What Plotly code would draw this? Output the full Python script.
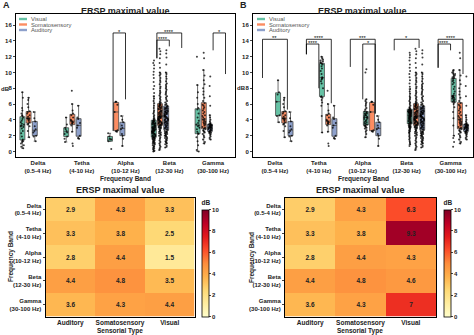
import plotly.graph_objects as go
from plotly.colors import sequential

# ---------------------------------------------------------------- data
bands = ["Delta", "Tetha", "Alpha", "Beta", "Gamma"]
band_ranges = ["(0.5-4 Hz)", "(4-10 Hz)", "(10-12 Hz)", "(12-30 Hz)", "(30-100 Hz)"]
modalities = ["Visual", "Somatosensory", "Auditory"]
heat_columns = ["Auditory", "Somatosensory", "Visual"]

# ERSP maximal values (dB) per electrode / subject sample
visual_a_delta = [0.4, 0.6, 0.8, 1.0, 1.2, 1.3, 1.4, 1.5, 1.9, 2.3, 2.6, 2.9, 3.1, 3.2,
                  3.3, 3.4, 3.5, 3.7, 3.9, 4.1, 4.3, 4.5, 4.6, 4.8, 5.2, 5.5, 6.8, 7.5]
visual_a_tetha = [1.2, 1.6, 1.9, 2.2, 2.4, 2.6, 2.8, 3.0, 3.4, 4.3]
visual_a_alpha = [0.3, 1.3, 1.5, 1.6, 1.9, 2.3]
visual_a_beta = [0.0, 0.1, 0.2, 0.3, 0.4, 0.5, 0.6, 0.7, 0.8, 0.9, 1.0, 1.0, 1.1, 1.2, 1.2,
                 1.3, 1.4, 1.4, 1.5, 1.5, 1.6, 1.6, 1.7, 1.7, 1.8,
                 1.8, 1.9, 1.9, 2.0, 2.0, 2.1, 2.1, 2.2, 2.2, 2.3, 2.3, 2.4, 2.4, 2.5, 2.5,
                 2.5, 2.6, 2.6, 2.6, 2.7, 2.7, 2.7, 2.8, 2.8, 2.8,
                 2.9, 2.9, 3.0, 3.0, 3.0, 3.1, 3.1, 3.2, 3.2, 3.3, 3.3, 3.4, 3.4, 3.5, 3.5,
                 3.5, 3.6, 3.6, 3.7, 3.7, 3.8, 3.8, 3.9, 3.9, 3.9,
                 4.0, 4.1, 4.2, 4.4, 4.6, 4.8, 5.0, 5.2, 5.5, 5.8, 6.1, 6.4, 6.7, 7.0,
                 7.4, 7.9, 8.3, 8.8, 9.3, 9.7, 10.1, 10.5, 10.9, 11.2, 11.5]
visual_a_gamma = [0.0, 0.2, 0.8, 1.3, 1.8, 2.2, 2.3, 2.5, 2.8, 3.0, 3.2, 3.3,
                  3.4, 3.6, 3.9, 4.3, 4.8, 5.3, 5.5, 6.0, 6.8, 7.5, 8.4, 12.0]

visual_b_delta = [3.7, 4.5, 4.6, 6.3, 7.2, 7.5, 9.0]
visual_b_tetha = [2.4, 4.5, 5.8, 6.2, 6.5, 6.8, 6.9, 7.0, 8.0, 8.6, 8.9, 9.1, 9.2, 9.3,
                  9.4, 9.8, 10.2, 10.5, 10.8, 11.0, 11.1, 11.2, 11.3, 11.4, 11.5, 11.6, 11.8, 12.0]
visual_b_alpha = [1.8, 2.2, 2.5, 2.7, 2.9, 3.0, 3.1, 3.2, 3.3, 3.3, 3.4, 3.5, 3.6, 3.7,
                  3.8, 3.9, 4.0, 4.1, 4.2, 4.3, 4.3, 4.4, 4.5, 4.6, 4.6, 4.7, 4.8, 4.8,
                  4.9, 5.0, 5.1, 5.3, 5.5, 5.8, 6.0, 6.2, 6.4, 6.6, 10.0, 10.4]
visual_b_beta = [0.7, 0.9, 1.1, 1.3, 1.5, 1.7, 1.9, 2.1, 2.3, 2.4, 2.5, 2.6, 2.7, 2.8, 2.9,
                 3.0, 3.0, 3.1, 3.1, 3.2, 3.2, 3.3, 3.3, 3.4, 3.5,
                 3.5, 3.6, 3.6, 3.7, 3.7, 3.8, 3.8, 3.9, 3.9, 4.0, 4.0, 4.1, 4.1, 4.2, 4.2,
                 4.3, 4.3, 4.3, 4.4, 4.4, 4.4, 4.5, 4.5, 4.5, 4.6,
                 4.6, 4.6, 4.7, 4.7, 4.7, 4.8, 4.8, 4.8, 4.9, 4.9, 4.9, 5.0, 5.0, 5.0, 5.0,
                 5.1, 5.1, 5.1, 5.1, 5.2, 5.2, 5.2, 5.2, 5.3, 5.3,
                 5.4, 5.5, 5.6, 5.8, 6.0, 6.2, 6.4, 6.6, 6.8, 7.0, 7.3, 7.6, 7.9, 8.2,
                 8.6, 9.0, 9.4, 9.8, 10.2, 10.6, 11.0, 11.5, 11.9, 12.2, 12.5]
visual_b_gamma = [0.6, 1.2, 1.7, 2.0, 3.3, 4.2, 5.0, 5.6, 6.0, 6.2, 6.3, 6.4, 6.5, 6.6,
                  6.7, 6.8, 6.8, 6.9, 7.0, 7.0, 7.1, 7.3, 7.6, 7.9, 8.2, 8.5, 8.7, 8.9,
                  9.0, 9.2, 9.3, 9.4, 9.5, 9.6, 9.7, 9.8, 9.9, 10.0, 10.2, 10.3]

somato_delta = [1.8, 2.6, 3.2, 3.4, 3.5, 3.7, 3.9, 4.0, 4.1, 4.2, 4.2, 4.4, 4.6, 4.8,
                5.0, 5.1, 5.6, 6.0, 6.5, 6.8]
somato_tetha = [0.7, 1.0, 2.5, 3.3, 3.5, 3.6, 3.7, 3.8, 3.9, 4.0, 4.3, 4.6, 4.8, 5.2, 6.0, 7.7]
somato_alpha = [2.5, 2.6, 2.7, 5.0, 5.9, 6.3, 6.3]
somato_beta = [0.2, 0.4, 0.6, 0.8, 1.0, 1.2, 1.4, 1.6, 1.8, 2.0, 2.1, 2.2, 2.3, 2.4, 2.5,
               2.6, 2.7, 2.8, 2.9, 3.0, 3.0, 3.1, 3.1, 3.2, 3.3,
               3.3, 3.4, 3.4, 3.5, 3.5, 3.6, 3.6, 3.7, 3.7, 3.8, 3.8, 3.9, 3.9, 4.0, 4.0,
               4.1, 4.1, 4.2, 4.2, 4.3, 4.3, 4.3, 4.4, 4.4, 4.4,
               4.5, 4.5, 4.6, 4.7, 4.7, 4.8, 4.9, 4.9, 5.0, 5.1, 5.1, 5.2, 5.3, 5.3, 5.4,
               5.5, 5.5, 5.6, 5.7, 5.7, 5.8, 5.8, 5.9, 5.9, 6.0,
               6.1, 6.2, 6.3, 6.5, 6.7, 6.9, 7.1, 7.3, 7.5, 7.7, 8.0, 8.2, 8.5, 8.8, 9.0,
               9.3, 9.6, 9.8, 10.0, 10.6, 11.2, 11.8, 12.3, 12.7, 13.0]
somato_gamma = [1.0, 1.2, 1.5, 1.8, 2.0, 2.2, 2.4, 2.5, 2.6, 2.7, 2.8, 2.9,
                3.0, 3.1, 3.3, 3.4, 3.5, 3.6, 3.7, 3.8, 3.9, 4.0,
                4.1, 4.3, 4.5, 4.6, 4.8, 5.0, 5.2, 5.4, 5.6, 5.8,
                5.9, 6.1, 6.4, 6.8, 7.2, 7.6, 8.0, 8.5, 9.0, 9.6, 10.3, 11.8, 12.5]

auditory_delta = [1.3, 1.9, 2.0, 2.4, 2.6, 2.8, 3.2, 3.8, 4.2, 5.0]
auditory_tetha = [1.6, 1.7, 2.0, 3.0, 3.3, 3.6, 4.1, 4.3, 5.8]
auditory_alpha = [0.7, 1.6, 2.0, 2.2, 2.8, 3.0, 3.3, 3.7, 4.0, 4.5]
auditory_beta = [0.5, 0.7, 0.9, 1.0, 1.1, 1.2, 1.3, 1.4, 1.5, 1.6, 1.7, 1.8, 1.9, 2.0, 2.0,
                 2.1, 2.2, 2.2, 2.3, 2.4, 2.4, 2.5, 2.5, 2.6, 2.7,
                 2.8, 2.9, 3.0, 3.0, 3.1, 3.2, 3.3, 3.3, 3.4, 3.5, 3.5, 3.6, 3.7, 3.7, 3.8,
                 3.8, 3.9, 3.9, 4.0, 4.0, 4.1, 4.1, 4.2, 4.2, 4.3,
                 4.4, 4.4, 4.5, 4.5, 4.6, 4.6, 4.7, 4.7, 4.8, 4.8, 4.9, 4.9, 5.0, 5.0, 5.1,
                 5.1, 5.2, 5.2, 5.3, 5.4, 5.4, 5.5, 5.5, 5.6, 5.7,
                 5.8, 5.9, 6.0, 6.2, 6.4, 6.6, 6.8, 7.0, 7.2, 7.4, 7.6, 7.8, 8.0, 8.2, 8.4,
                 8.6, 8.9, 9.2, 9.5, 9.8, 10.0, 11.0, 11.9, 12.4, 12.8]
auditory_gamma = [1.5, 1.7, 1.9, 2.1, 2.2, 2.3, 2.4, 2.4, 2.5, 2.5, 2.6, 2.7, 2.7, 2.8,
                  2.8, 2.9, 2.9, 3.0, 3.0, 3.0, 3.1, 3.1, 3.2, 3.2, 3.3, 3.3, 3.3, 3.4,
                  3.4, 3.4, 3.5, 3.6, 3.8, 4.0, 4.3, 4.6, 5.8, 7.0, 8.3, 9.5]

# heatmap cell values (rows follow `bands`)
heat_a_auditory = [2.9, 3.3, 2.8, 4.4, 3.6]
heat_a_somatosensory = [4.3, 3.8, 4.4, 4.8, 4.3]
heat_a_visual = [3.3, 2.5, 1.5, 3.5, 4.4]
heat_b_auditory = [2.9, 3.3, 2.8, 4.4, 3.6]
heat_b_somatosensory = [4.3, 3.8, 4.4, 4.8, 4.3]
heat_b_visual = [6.3, 9.3, 4.3, 4.6, 7]

# significance comparisons: (band, group 1, group 2, label)
comparisons_a = [("Alpha", "Visual", "Somatosensory", "*"),
                 ("Beta", "Visual", "Auditory", "****"),
                 ("Beta", "Visual", "Somatosensory", "****"),
                 ("Gamma", "Somatosensory", "Auditory", "*")]
comparisons_b = [("Delta", "Visual", "Auditory", "**"),
                 ("Tetha", "Visual", "Auditory", "****"),
                 ("Tetha", "Visual", "Somatosensory", "****"),
                 ("Alpha", "Visual", "Auditory", "***"),
                 ("Alpha", "Somatosensory", "Auditory", "*"),
                 ("Beta", "Visual", "Auditory", "*"),
                 ("Gamma", "Visual", "Auditory", "****"),
                 ("Gamma", "Visual", "Somatosensory", "****")]

# ---------------------------------------------------------------- style
W, H = 474, 335
FONT = "Liberation Sans, Arial, sans-serif"
COLORS = {"Visual": "#66c2a5", "Somatosensory": "#fc8d62", "Auditory": "#8da0cb"}
BOXGAP = 0.15
SLOT = (1 - BOXGAP) / 3
OFFSETS = {"Visual": -SLOT, "Somatosensory": 0.0, "Auditory": SLOT}


def px_x(p):
    return p / W


def px_y(p):
    return 1 - p / H


samples_a = {
    "Visual": [visual_a_delta, visual_a_tetha, visual_a_alpha, visual_a_beta, visual_a_gamma],
    "Somatosensory": [somato_delta, somato_tetha, somato_alpha, somato_beta, somato_gamma],
    "Auditory": [auditory_delta, auditory_tetha, auditory_alpha, auditory_beta, auditory_gamma],
}
samples_b = {
    "Visual": [visual_b_delta, visual_b_tetha, visual_b_alpha, visual_b_beta, visual_b_gamma],
    "Somatosensory": samples_a["Somatosensory"],
    "Auditory": samples_a["Auditory"],
}

fig = go.Figure()
shapes = []
annotations = []

panels = [
    ("x", "y", samples_a, comparisons_a, (15.0, 14.1), 19),
    ("x2", "y2", samples_b, comparisons_b, (14.2, 13.6), 257),
]
for xa, ya, samples, comps, levels, leg_x in panels:
    for k, mod in enumerate(modalities):
        xs, ys = [], []
        for i, vals in enumerate(samples[mod]):
            xs += [i] * len(vals)
            ys += vals
        fig.add_trace(go.Box(
            x=xs, y=ys, name=mod, xaxis=xa, yaxis=ya, showlegend=False,
            fillcolor=COLORS[mod], line=dict(color="#4a4a4a", width=0.8),
            boxpoints="all", jitter=0.75, pointpos=0, whiskerwidth=0.45,
            marker=dict(color="black", size=2, opacity=0.75),
            hoveron="boxes",
        ))
        # compact legend entry: colour patch + label
        row_y = 19 + 5.5 * k
        shapes.append(dict(type="rect", xref="paper", yref="paper",
                           x0=px_x(leg_x), x1=px_x(leg_x + 8),
                           y0=px_y(row_y + 1.2), y1=px_y(row_y - 1.2),
                           fillcolor=COLORS[mod], line=dict(width=0)))
        annotations.append(dict(x=px_x(leg_x + 10.5), y=px_y(row_y), xref="paper",
                                yref="paper", text=mod, showarrow=False,
                                xanchor="left", yanchor="middle", borderpad=0,
                                font=dict(size=5.8, color="#555")))
    # significance brackets
    seen = {}
    for band, g1, g2, label in comps:
        bi = bands.index(band)
        tier = seen.get(band, 0)
        seen[band] = tier + 1
        top = levels[tier]
        x1, x2 = bi + OFFSETS[g1], bi + OFFSETS[g2]
        y1 = max(samples[g1][bi]) + 0.3
        y2 = max(samples[g2][bi]) + 0.3
        shapes.append(dict(type="path", xref=xa, yref=ya,
                           path=f"M {x1},{y1} L {x1},{top} L {x2},{top} L {x2},{y2}",
                           line=dict(color="black", width=0.8)))
        annotations.append(dict(x=(x1 + x2) / 2, y=top, xref=xa, yref=ya, text=label,
                                showarrow=False, yanchor="bottom", yshift=-3,
                                borderpad=0, font=dict(size=5.8, color="black")))

# heatmaps
heat_panels = [
    ("x3", "y3", [heat_a_auditory, heat_a_somatosensory, heat_a_visual], 202),
    ("x4", "y4", [heat_b_auditory, heat_b_somatosensory, heat_b_visual], 444),
]
row_labels = [f"{b}<br>{r}" for b, r in zip(bands, band_ranges)]
heat_top, heat_bot = 197.5, 316.5
for xa, ya, cols, cb_x in heat_panels:
    z = [[col[r] for col in cols] for r in range(len(bands))]
    fig.add_trace(go.Heatmap(
        z=z, x=heat_columns, y=row_labels, xaxis=xa, yaxis=ya,
        colorscale=sequential.YlOrRd, zmin=0, zmax=10,
        texttemplate="%{z}", textfont=dict(size=6.5, color="#222", weight="bold"),
        colorbar=dict(x=px_x(cb_x), xanchor="left", thickness=7, xpad=0, ypad=0,
                      len=(heat_bot - heat_top) / H, lenmode="fraction",
                      y=px_y((heat_top + heat_bot) / 2), yanchor="middle",
                      outlinewidth=0.8, outlinecolor="black",
                      tickvals=[0, 2, 4, 6, 8, 10], ticks="outside", ticklen=2,
                      tickfont=dict(size=6, weight="bold", color="#222"),
                      title=dict(text="dB", side="top",
                                 font=dict(size=6.5, weight="bold", color="#222"))),
    ))

frame = dict(showline=True, mirror=True, linecolor="black", linewidth=1,
             showgrid=False, zeroline=False)
tick_text = [f"<b>{b}</b><br><b>{r}</b>" for b, r in zip(bands, band_ranges)]
box_x = dict(frame, range=[-0.5, 4.5], tickvals=list(range(5)), ticktext=tick_text,
             ticks="", tickfont=dict(size=6, color="#222"))
box_y = dict(frame, range=[-0.7, 17.4], dtick=2, ticks="outside", ticklen=2,
             tickfont=dict(size=6, weight="bold", color="#222"))
heat_x = dict(frame, ticks="", ticklabelstandoff=0,
              tickfont=dict(size=6.5, weight="bold", color="#222"))
heat_y = dict(frame, ticks="outside", ticklen=2, autorange="reversed",
              tickfont=dict(size=6, weight="bold", color="#222"))

top_y0, top_y1 = px_y(157), px_y(14)
hm_y0, hm_y1 = px_y(heat_bot), px_y(heat_top)

fig.update_layout(
    width=W, height=H, margin=dict(l=0, r=0, t=0, b=0),
    paper_bgcolor="white", plot_bgcolor="white",
    font=dict(family=FONT, color="#222"),
    showlegend=False,
    boxmode="group", boxgap=BOXGAP, boxgroupgap=0.2,
    xaxis=dict(box_x, domain=[px_x(16), px_x(235)], anchor="y"),
    yaxis=dict(box_y, domain=[top_y0, top_y1], anchor="x"),
    xaxis2=dict(box_x, domain=[px_x(253), px_x(472.5)], anchor="y2"),
    yaxis2=dict(box_y, domain=[top_y0, top_y1], anchor="x2"),
    xaxis3=dict(heat_x, domain=[px_x(45.5), px_x(194.5)], anchor="y3"),
    yaxis3=dict(heat_y, domain=[hm_y0, hm_y1], anchor="x3"),
    xaxis4=dict(heat_x, domain=[px_x(285), px_x(436)], anchor="y4"),
    yaxis4=dict(heat_y, domain=[hm_y0, hm_y1], anchor="x4"),
    shapes=shapes,
)


# panel titles, letters and axis titles
def text(x, y, s, size=7, bold=True, angle=0, xanchor="center", yanchor="middle"):
    annotations.append(dict(x=px_x(x), y=px_y(y), xref="paper", yref="paper",
                            text=f"<b>{s}</b>" if bold else s, showarrow=False,
                            textangle=angle, xanchor=xanchor, yanchor=yanchor,
                            borderpad=0, font=dict(size=size, color="#222")))


text(2, 5, "A", size=9, xanchor="left")
text(239, 5, "B", size=9, xanchor="left")
text(125, 11, "ERSP maximal value", size=9)
text(362, 11, "ERSP maximal value", size=9)
text(0, 89, "dB", size=6, xanchor="left")
text(236, 88, "dB", size=6, xanchor="left")
text(125, 179, "Frequency Band", size=6.5)
text(363, 179, "Frequency Band", size=6.5)
text(120, 190, "ERSP maximal value", size=9)
text(360, 190, "ERSP maximal value", size=9)
text(11, 257, "Frequency Band", size=6.5, angle=-90)
text(252, 257, "Frequency Band", size=6.5, angle=-90)
text(120, 331, "Sensorial Type", size=6.5)
text(360, 331, "Sensorial Type", size=6.5)

fig.update_layout(annotations=annotations)
fig.write_html("out.html")
